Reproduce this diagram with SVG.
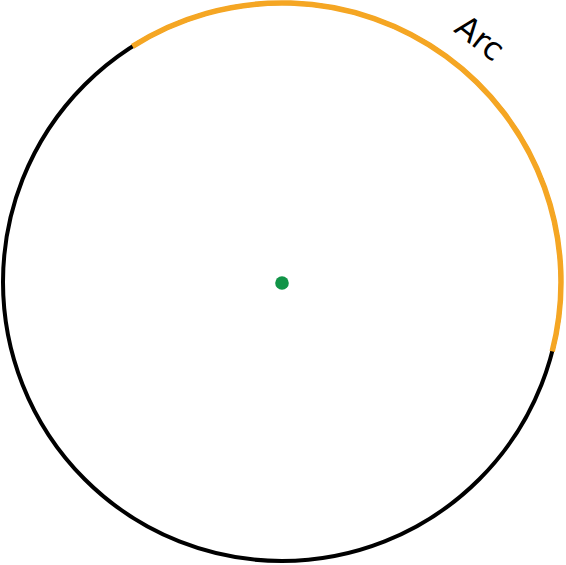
<svg xmlns="http://www.w3.org/2000/svg" width="566" height="565" viewBox="0 0 566 565">
<style>
.circle{fill:none;stroke:#000;stroke-width:4}
.arc{fill:none;stroke:#f5a623;stroke-width:5.5}
.lbl{font-family:"DejaVu Sans",sans-serif;font-size:32px;fill:#000}
</style>
<rect width="566" height="565" fill="#fff"/>
<g id="circle"><circle class="circle" cx="282" cy="282" r="279"/></g>
<g id="connectors"><path id="arc" class="arc" d="M132.5,46.4 A279,279 0 0 1 552.2,351.4"/></g>
<g id="center"><circle cx="282" cy="283" r="6.8" fill="#119447"/></g>
<g id="label"><text class="lbl" x="0" y="0" text-anchor="middle" dominant-baseline="central" transform="translate(480,38) rotate(38)">Arc</text></g>
</svg>
